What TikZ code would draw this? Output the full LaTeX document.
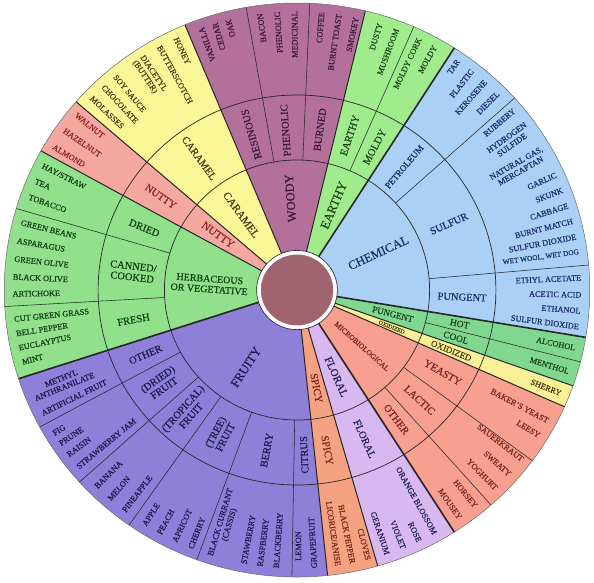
\documentclass[tikz,border=0pt]{standalone}
\usepackage{fontspec}
\setmainfont{Liberation Serif}[FakeBold=0.35]
\definecolor{woody}{HTML}{B3709B}
\definecolor{earthy}{HTML}{A0EC8C}
\definecolor{chem}{HTML}{AAD0F5}
\definecolor{pung}{HTML}{80D890}
\definecolor{oxid}{HTML}{F8F096}
\definecolor{micro}{HTML}{F8A090}
\definecolor{floral}{HTML}{D8B8F0}
\definecolor{spicy}{HTML}{F5A282}
\definecolor{fruity}{HTML}{8E80D8}
\definecolor{herb}{HTML}{90E08C}
\definecolor{nutty}{HTML}{F5A8A0}
\definecolor{caram}{HTML}{F8F696}
\definecolor{centerc}{HTML}{A06470}
\definecolor{linec}{HTML}{262626}
\definecolor{woodyT}{HTML}{3C1638}
\definecolor{earthT}{HTML}{1C4418}
\definecolor{chemT}{HTML}{1C2C6C}
\definecolor{pungT}{HTML}{16401C}
\definecolor{oxidT}{HTML}{4A3A10}
\definecolor{microT}{HTML}{7C2424}
\definecolor{floralT}{HTML}{24205C}
\definecolor{spicyT}{HTML}{7A2418}
\definecolor{fruitT}{HTML}{1C1A4C}
\definecolor{herbT}{HTML}{123C12}
\definecolor{nuttyT}{HTML}{8C2424}
\definecolor{caramT}{HTML}{4A3C14}
\tikzset{
  t1/.style={font=\fontsize{12.5}{13}\selectfont, align=center, inner sep=0pt},
  t2/.style={font=\fontsize{10.5}{11}\selectfont, align=center, inner sep=0pt},
  t3/.style={font=\fontsize{8.3}{9}\selectfont, inner sep=0pt},
  major/.style={draw=linec, line width=1pt},
  heavy/.style={draw=linec, line width=1.6pt},
  minor/.style={draw=linec, line width=0.55pt},
}
\newcommand\sect[3]{\fill[#3] (0,0) -- (#1:287) arc[start angle=#1, end angle=#2, radius=287] -- cycle;}
\newcommand\tR[3][]{\node[t3,anchor=east,rotate=#2,align=center,#1] at (#2:279) {#3};}
\newcommand\tL[3][]{\node[t3,anchor=west,rotate=#2-180,align=center,#1] at (#2:279) {#3};}
\newcommand\lab[5][]{\node[#1,rotate=#4] at (#2:#3) {#5};}
\begin{document}
\begin{tikzpicture}[x=1pt,y=1pt]
\useasboundingbox (0,-582) rectangle (594,0);
\fill[white] (0,-582) rectangle (594,0);
\begin{scope}[shift={(297,-290)}, xscale=1.02]
% sectors
\sect{-9.5}{57.5}{chem}
\sect{57.5}{76.5}{earthy}
\sect{76.5}{112.5}{woody}
\sect{112.5}{139}{caram}
\sect{139}{151}{nutty}
\sect{151}{198}{herb}
\sect{198}{276}{fruity}
\sect{276}{286}{spicy}
\sect{286}{302.5}{floral}
\sect{302.5}{336}{micro}
\sect{336}{340.5}{oxid}
\sect{340.5}{350.5}{pung}
% rings
\draw[linec, line width=0.7pt] (0,0) circle[radius=130];
\draw[linec, line width=0.7pt] (0,0) circle[radius=195];
\draw[linec!70, line width=0.5pt] (0,0) circle[radius=287];
% minor radial lines
\foreach \a in {87.5,100,66.5,42,5,-14.5,-36.5,-48.5,208.5,222,235,250,269,163.5,183.3}
  \draw[minor] (\a:130) -- (\a:287);
% major radial lines
\foreach \a in {76.5,112.5,139,151,276,286,336,340.5}
  \draw[major] (\a:39) -- (\a:287);
\foreach \a in {-9.5,57.5,198,302.5}
  \draw[heavy] (\a:39) -- (\a:287);
% centre
\fill[centerc] (0,0) circle[radius=36];
\draw[white, line width=4pt] (0,0) circle[radius=37.5];
\draw[linec, line width=0.6pt] (0,0) circle[radius=39.6];

% ---------- WOODY
\begin{scope}[every node/.append style={text=woodyT}]
\lab[t1]{94}{92}{94}{WOODY}
\lab[t2]{106}{162}{106}{RESINOUS}
\lab[t2]{94}{160}{94}{PHENOLIC}
\lab[t2]{82}{162}{82}{BURNED}
\tR{109.7}{VANILLA}\tR{106.8}{CEDAR}\tR{104}{OAK}
\tR{97.5}{BACON}\tR{94}{PHENOLIC}\tR{90.5}{MEDICINAL}
\tR{85}{COFFEE}\tR{81.5}{BURNT TOAST}\tR{78}{SMOKEY}
\end{scope}
% ---------- EARTHY
\begin{scope}[every node/.append style={text=earthT}]
\lab[t1]{67}{92}{67}{EARTHY}
\lab[t2]{71.5}{163}{71.5}{EARTHY}
\lab[t2]{62}{162}{62}{MOLDY}
\tR{73}{DUSTY}\tR{69.5}{MUSHROOM}\tR{64.5}{MOLDY CORK}\tR{61}{MOLDY}
\end{scope}
% ---------- CHEMICAL
\begin{scope}[every node/.append style={text=chemT}]
\lab[t1]{25}{88}{25}{CHEMICAL}
\lab[t2,font=\fontsize{9}{9}\selectfont]{49.5}{162}{49.5}{PETROLEUM}
\lab[t2]{24}{163}{24}{SULFUR}
\lab[t2]{-2.5}{162}{-2.5}{PUNGENT}
\tR{55.5}{TAR}\tR{52}{PLASTIC}\tR{48.5}{KEROSENE}\tR{45}{DIESEL}
\tR{40.2}{RUBBERY}\tR{35.6}{HYDROGEN\\SULFIDE}\tR{29.6}{NATURAL GAS,\\MERCAPTAN}
\tR{24.4}{GARLIC}\tR{21}{SKUNK}\tR{17.6}{CABBAGE}\tR{14.3}{BURNT MATCH}
\tR{11}{SULFUR DIOXIDE}\tR[font=\fontsize{7.3}{7.3}\selectfont]{7.8}{WET WOOL, WET DOG}
\tR{2.5}{ETHYL ACETATE}\tR{-1}{ACETIC ACID}\tR{-4.3}{ETHANOL}\tR{-7.6}{SULFUR DIOXIDE}
\end{scope}
% ---------- PUNGENT / OXIDIZED
\begin{scope}[every node/.append style={text=pungT}]
\lab[t2,font=\fontsize{9}{9}\selectfont]{-14.5}{97}{-14.5}{PUNGENT}
\lab[t2,font=\fontsize{9.5}{9.5}\selectfont]{-12}{163}{-12}{HOT}
\lab[t2,font=\fontsize{9.5}{9.5}\selectfont]{-17}{163}{-17}{COOL}
\tR{-12}{ALCOHOL}\tR{-17}{MENTHOL}
\end{scope}
\begin{scope}[every node/.append style={text=oxidT}]
\lab[t2,font=\fontsize{5.8}{5.8}\selectfont]{-21.8}{100}{-21.8}{OXIDIZED}
\lab[t2,font=\fontsize{9}{9}\selectfont]{-21.9}{163}{-21.9}{OXIDIZED}
\tR{-21.8}{SHERRY}
\end{scope}
% ---------- MICROBIOLOGICAL
\begin{scope}[every node/.append style={text=microT}]
\lab[t2,font=\fontsize{7.5}{7.5}\selectfont]{-41.5}{85}{-41.5}{MICROBIOLOGICAL}
\lab[t2]{-30}{165}{-30}{YEASTY}
\lab[t2]{-42.5}{163}{-42.5}{LACTIC}
\lab[t2]{-53}{162}{-53}{OTHER}
\tR{-28}{BAKER'S YEAST}\tR{-31.5}{LEESY}
\tR{-37.5}{SAUERKRAUT}\tR{-41.5}{SWEATY}\tR{-45.5}{YOGHURT}
\tR{-51}{HORSEY}\tR{-55}{MOUSEY}
\end{scope}
% ---------- FLORAL
\begin{scope}[every node/.append style={text=floralT}]
\lab[t2,font=\fontsize{11}{11}\selectfont]{-66}{95}{-66}{FLORAL}
\lab[t2]{-66}{163}{-66}{FLORAL}
\tR{-61}{ORANGE BLOSSOM}\tR{-64.5}{ROSE}\tR{-68}{VIOLET}\tR{-71.5}{GERANIUM}
\end{scope}
% ---------- SPICY
\begin{scope}[every node/.append style={text=spicyT}]
\lab[t2]{-79}{100}{-79}{SPICY}
\lab[t2]{-79.5}{163}{-79.5}{SPICY}
\tR{-75.5}{CLOVES}\tR{-78.7}{BLACK PEPPER}\tR{-81.7}{LICORICE/ANISE}
\end{scope}
% ---------- FRUITY
\begin{scope}[every node/.append style={text=fruitT}]
\lab[t1]{237}{92}{57}{FRUITY}
\lab[t2]{272.5}{165}{92.5}{CITRUS}
\lab[t2]{259.5}{163}{79.5}{BERRY}
\lab[t2]{242.5}{163}{62.5}{(TREE)\\FRUIT}
\lab[t2]{228.5}{163}{48.5}{(TROPICAL)\\FRUIT}
\lab[t2]{215}{163}{35}{(DRIED)\\FRUIT}
\lab[t2]{203.5}{162}{23.5}{OTHER}
\tL{273.5}{GRAPEFRUIT}
\node[t3,anchor=west,rotate=90.3] at (270.3:271) {LEMON};
\tL{253.3}{BLACK CURRANT\\(CASSIS)}\tL{259.2}{STAWBERRY}\tL{262.5}{RASPBERRY}\tL{265.8}{BLACKBERRY}
\tL{248}{CHERRY}\tL{244.5}{APRICOT}\tL{241}{PEACH}\tL{237.5}{APPLE}
\tL{232.5}{PINEAPPLE}\tL{228.7}{MELON}\tL{225}{BANANA}
\tL{219.5}{STRAWBERRY JAM}\tL{216.3}{RAISIN}\tL{213.5}{PRUNE}\tL{211}{FIG}
\tL{202}{METHYL\\ANTHRANILATE}\tL{206.3}{ARTIFICIAL FRUIT}
\end{scope}
% ---------- HERBACEOUS
\begin{scope}[every node/.append style={text=herbT}]
\lab[t2,font=\fontsize{10}{10.5}\selectfont]{176}{86}{-4}{HERBACEOUS\\OR VEGETATIVE}
\lab[t2]{190.5}{163}{10.5}{FRESH}
\lab[t2]{173.5}{162}{-6.5}{CANNED/\\COOKED}
\lab[t2]{157.5}{162}{-22.5}{DRIED}
\tL{186}{CUT GREEN GRASS}\tL{189}{BELL PEPPER}\tL{192}{EUCLAYPTUS}\tL{195}{MINT}
\tL{166}{GREEN BEANS}\tL{169.8}{ASPARAGUS}\tL{173.6}{GREEN OLIVE}\tL{177.3}{BLACK OLIVE}\tL{180.8}{ARTICHOKE}
\tL{153.5}{HAY/STRAW}\tL{157}{TEA}\tL{160.5}{TOBACCO}
\end{scope}
% ---------- NUTTY
\begin{scope}[every node/.append style={text=nuttyT}]
\lab[t2,font=\fontsize{11}{11}\selectfont]{144.5}{95}{-35.5}{NUTTY}
\lab[t2]{145}{163}{-35}{NUTTY}
\tL{141}{WALNUT}\tL{145}{HAZELNUT}\tL{149}{ALMOND}
\end{scope}
% ---------- CARAMEL
\begin{scope}[every node/.append style={text=caramT}]
\lab[t2,font=\fontsize{11}{11}\selectfont]{126}{93}{-54}{CARAMEL}
\lab[t2]{126}{163}{-54}{CARAMEL}
\tL{115.2}{HONEY}\tL{119}{BUTTERSCOTCH}\tL[align=left]{124}{DIACETYL\\(BUTTER)}
\tL{129.8}{SOY SAUCE}\tL{133}{CHOCOLATE}\tL{136.3}{MOLASSES}
\end{scope}
\end{scope}
\end{tikzpicture}
\end{document}
